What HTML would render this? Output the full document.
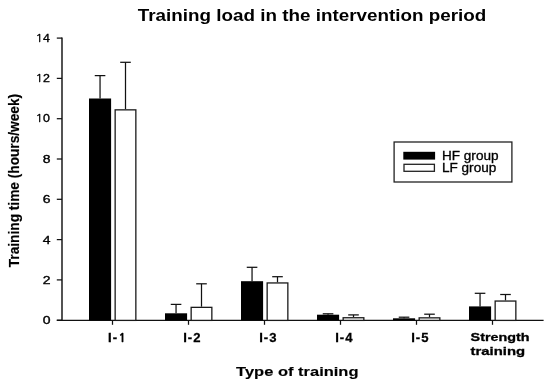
<!DOCTYPE html>
<html><head><meta charset="utf-8"><style>
html,body{margin:0;padding:0;background:#fff;}
body{width:550px;height:384px;overflow:hidden;}
svg{display:block;}
</style></head><body>
<svg width="550" height="384" viewBox="0 0 550 384">
<rect width="550" height="384" fill="#fff"/>
<line x1="62.0" y1="37.5" x2="62.0" y2="320.4" stroke="#111" stroke-width="1.45"/>
<line x1="56.8" y1="320.4" x2="543.6" y2="320.4" stroke="#111" stroke-width="1.25"/>
<line x1="56.8" y1="320.20" x2="62.0" y2="320.20" stroke="#111" stroke-width="1.25"/>
<line x1="56.8" y1="279.90" x2="62.0" y2="279.90" stroke="#111" stroke-width="1.25"/>
<line x1="56.8" y1="239.60" x2="62.0" y2="239.60" stroke="#111" stroke-width="1.25"/>
<line x1="56.8" y1="199.30" x2="62.0" y2="199.30" stroke="#111" stroke-width="1.25"/>
<line x1="56.8" y1="159.00" x2="62.0" y2="159.00" stroke="#111" stroke-width="1.25"/>
<line x1="56.8" y1="118.70" x2="62.0" y2="118.70" stroke="#111" stroke-width="1.25"/>
<line x1="56.8" y1="78.40" x2="62.0" y2="78.40" stroke="#111" stroke-width="1.25"/>
<line x1="56.8" y1="38.10" x2="62.0" y2="38.10" stroke="#111" stroke-width="1.25"/>
<line x1="112.5" y1="320.4" x2="112.5" y2="324.8" stroke="#111" stroke-width="1.25"/>
<line x1="188.5" y1="320.4" x2="188.5" y2="324.8" stroke="#111" stroke-width="1.25"/>
<line x1="264.5" y1="320.4" x2="264.5" y2="324.8" stroke="#111" stroke-width="1.25"/>
<line x1="340.5" y1="320.4" x2="340.5" y2="324.8" stroke="#111" stroke-width="1.25"/>
<line x1="416.5" y1="320.4" x2="416.5" y2="324.8" stroke="#111" stroke-width="1.25"/>
<line x1="492.5" y1="320.4" x2="492.5" y2="324.8" stroke="#111" stroke-width="1.25"/>
<line x1="100.05" y1="75.6" x2="100.05" y2="98.5" stroke="#111" stroke-width="1.25"/>
<line x1="94.75" y1="75.6" x2="105.35" y2="75.6" stroke="#111" stroke-width="1.25"/>
<rect x="89.0" y="98.5" width="22.10" height="221.90" fill="#000"/>
<line x1="125.50" y1="62.3" x2="125.50" y2="109.2" stroke="#111" stroke-width="1.25"/>
<line x1="120.20" y1="62.3" x2="130.80" y2="62.3" stroke="#111" stroke-width="1.25"/>
<rect x="115.15" y="109.85" width="20.70" height="210.55" fill="#fff" stroke="#1a1a1a" stroke-width="1.3"/>
<line x1="176.05" y1="304.4" x2="176.05" y2="313.3" stroke="#111" stroke-width="1.25"/>
<line x1="170.75" y1="304.4" x2="181.35" y2="304.4" stroke="#111" stroke-width="1.25"/>
<rect x="165.0" y="313.3" width="22.10" height="7.10" fill="#000"/>
<line x1="201.50" y1="283.8" x2="201.50" y2="306.7" stroke="#111" stroke-width="1.25"/>
<line x1="196.20" y1="283.8" x2="206.80" y2="283.8" stroke="#111" stroke-width="1.25"/>
<rect x="191.15" y="307.35" width="20.70" height="13.05" fill="#fff" stroke="#1a1a1a" stroke-width="1.3"/>
<line x1="252.05" y1="267.3" x2="252.05" y2="281.2" stroke="#111" stroke-width="1.25"/>
<line x1="246.75" y1="267.3" x2="257.35" y2="267.3" stroke="#111" stroke-width="1.25"/>
<rect x="241.0" y="281.2" width="22.10" height="39.20" fill="#000"/>
<line x1="277.50" y1="276.7" x2="277.50" y2="282.3" stroke="#111" stroke-width="1.25"/>
<line x1="272.20" y1="276.7" x2="282.80" y2="276.7" stroke="#111" stroke-width="1.25"/>
<rect x="267.15" y="282.95" width="20.70" height="37.45" fill="#fff" stroke="#1a1a1a" stroke-width="1.3"/>
<line x1="328.05" y1="313.8" x2="328.05" y2="314.7" stroke="#111" stroke-width="1.25"/>
<line x1="322.75" y1="313.8" x2="333.35" y2="313.8" stroke="#111" stroke-width="1.25"/>
<rect x="317.0" y="314.7" width="22.10" height="5.70" fill="#000"/>
<line x1="353.50" y1="314.9" x2="353.50" y2="317.1" stroke="#111" stroke-width="1.25"/>
<line x1="348.20" y1="314.9" x2="358.80" y2="314.9" stroke="#111" stroke-width="1.25"/>
<rect x="343.15" y="317.75" width="20.70" height="2.65" fill="#fff" stroke="#1a1a1a" stroke-width="1.3"/>
<line x1="404.05" y1="317.2" x2="404.05" y2="318.3" stroke="#111" stroke-width="1.25"/>
<line x1="398.75" y1="317.2" x2="409.35" y2="317.2" stroke="#111" stroke-width="1.25"/>
<rect x="393.0" y="318.3" width="22.10" height="2.10" fill="#000"/>
<line x1="429.50" y1="314.2" x2="429.50" y2="317.2" stroke="#111" stroke-width="1.25"/>
<line x1="424.20" y1="314.2" x2="434.80" y2="314.2" stroke="#111" stroke-width="1.25"/>
<rect x="419.15" y="317.85" width="20.70" height="2.55" fill="#fff" stroke="#1a1a1a" stroke-width="1.3"/>
<line x1="480.05" y1="293.3" x2="480.05" y2="306.4" stroke="#111" stroke-width="1.25"/>
<line x1="474.75" y1="293.3" x2="485.35" y2="293.3" stroke="#111" stroke-width="1.25"/>
<rect x="469.0" y="306.4" width="22.10" height="14.00" fill="#000"/>
<line x1="505.50" y1="294.5" x2="505.50" y2="300.4" stroke="#111" stroke-width="1.25"/>
<line x1="500.20" y1="294.5" x2="510.80" y2="294.5" stroke="#111" stroke-width="1.25"/>
<rect x="495.15" y="301.05" width="20.70" height="19.35" fill="#fff" stroke="#1a1a1a" stroke-width="1.3"/>
<rect x="394.1" y="142.0" width="117.8" height="40.0" fill="#fff" stroke="#222" stroke-width="1.3"/>
<rect x="403.3" y="151.8" width="31.8" height="7.8" fill="#000"/>
<rect x="404.0" y="164.3" width="30.4" height="7.0" fill="#fff" stroke="#222" stroke-width="1.3"/>
<text transform="translate(312.0,20.6) scale(1.1785,1.0)" font-family="'Liberation Sans', Arial, sans-serif" font-size="16" font-weight="bold" text-anchor="middle" fill="#000">Training load in the intervention period</text>
<text transform="translate(50.5,324.09999999999997) scale(1.27,1.0)" font-family="'Liberation Sans', Arial, sans-serif" font-size="11" font-weight="normal" text-anchor="end" fill="#000" stroke="#000" stroke-width="0.35">0</text>
<text transform="translate(50.5,283.79999999999995) scale(1.27,1.0)" font-family="'Liberation Sans', Arial, sans-serif" font-size="11" font-weight="normal" text-anchor="end" fill="#000" stroke="#000" stroke-width="0.35">2</text>
<text transform="translate(50.5,243.5) scale(1.27,1.0)" font-family="'Liberation Sans', Arial, sans-serif" font-size="11" font-weight="normal" text-anchor="end" fill="#000" stroke="#000" stroke-width="0.35">4</text>
<text transform="translate(50.5,203.20000000000002) scale(1.27,1.0)" font-family="'Liberation Sans', Arial, sans-serif" font-size="11" font-weight="normal" text-anchor="end" fill="#000" stroke="#000" stroke-width="0.35">6</text>
<text transform="translate(50.5,162.9) scale(1.27,1.0)" font-family="'Liberation Sans', Arial, sans-serif" font-size="11" font-weight="normal" text-anchor="end" fill="#000" stroke="#000" stroke-width="0.35">8</text>
<text transform="translate(50.0,122.39999999999999) scale(1.13,1.0)" font-family="'Liberation Sans', Arial, sans-serif" font-size="11" font-weight="normal" text-anchor="end" fill="#000" stroke="#000" stroke-width="0.35"><tspan font-family="NanumGothic, Liberation Sans, sans-serif">1</tspan>0</text>
<text transform="translate(50.0,82.10000000000001) scale(1.13,1.0)" font-family="'Liberation Sans', Arial, sans-serif" font-size="11" font-weight="normal" text-anchor="end" fill="#000" stroke="#000" stroke-width="0.35"><tspan font-family="NanumGothic, Liberation Sans, sans-serif">1</tspan>2</text>
<text transform="translate(50.0,41.800000000000026) scale(1.13,1.0)" font-family="'Liberation Sans', Arial, sans-serif" font-size="11" font-weight="normal" text-anchor="end" fill="#000" stroke="#000" stroke-width="0.35"><tspan font-family="NanumGothic, Liberation Sans, sans-serif">1</tspan>4</text>
<text transform="translate(117.6,341.6) scale(1.05,1.0)" font-family="'Liberation Sans', Arial, sans-serif" font-size="12.5" font-weight="bold" text-anchor="middle" fill="#000" letter-spacing="1.0" stroke="#000" stroke-width="0.25">I-<tspan font-family="NanumGothic, Liberation Sans, sans-serif">1</tspan></text>
<text transform="translate(192.4,341.6) scale(1.05,1.0)" font-family="'Liberation Sans', Arial, sans-serif" font-size="12.5" font-weight="bold" text-anchor="middle" fill="#000" letter-spacing="1.0" stroke="#000" stroke-width="0.25">I-2</text>
<text transform="translate(268.4,341.6) scale(1.05,1.0)" font-family="'Liberation Sans', Arial, sans-serif" font-size="12.5" font-weight="bold" text-anchor="middle" fill="#000" letter-spacing="1.0" stroke="#000" stroke-width="0.25">I-3</text>
<text transform="translate(344.4,341.6) scale(1.05,1.0)" font-family="'Liberation Sans', Arial, sans-serif" font-size="12.5" font-weight="bold" text-anchor="middle" fill="#000" letter-spacing="1.0" stroke="#000" stroke-width="0.25">I-4</text>
<text transform="translate(420.4,341.6) scale(1.05,1.0)" font-family="'Liberation Sans', Arial, sans-serif" font-size="12.5" font-weight="bold" text-anchor="middle" fill="#000" letter-spacing="1.0" stroke="#000" stroke-width="0.25">I-5</text>
<text transform="translate(470.6,341.4) scale(1.248,1.0)" font-family="'Liberation Sans', Arial, sans-serif" font-size="11.5" font-weight="bold" text-anchor="start" fill="#000" stroke="#000" stroke-width="0.3">Strength</text>
<text transform="translate(470.6,355.4) scale(1.293,1.0)" font-family="'Liberation Sans', Arial, sans-serif" font-size="11.5" font-weight="bold" text-anchor="start" fill="#000" stroke="#000" stroke-width="0.3">training</text>
<text transform="translate(297.3,375.6) scale(1.212,1.0)" font-family="'Liberation Sans', Arial, sans-serif" font-size="13.6" font-weight="bold" text-anchor="middle" fill="#000" stroke="#000" stroke-width="0.15">Type of training</text>
<text transform="translate(19.1,180.55) rotate(-90) scale(1.053,1.166)" font-family="'Liberation Sans', Arial, sans-serif" font-size="13" font-weight="bold" text-anchor="middle" fill="#000" stroke="#000" stroke-width="0.15">Training time (hours/week)</text>
<text transform="translate(442.0,159.7) scale(1.13,1.0)" font-family="'Liberation Sans', Arial, sans-serif" font-size="12" font-weight="normal" text-anchor="start" fill="#000" stroke="#000" stroke-width="0.3">HF group</text>
<text transform="translate(442.0,171.7) scale(1.13,1.0)" font-family="'Liberation Sans', Arial, sans-serif" font-size="12" font-weight="normal" text-anchor="start" fill="#000" stroke="#000" stroke-width="0.3">LF group</text>
</svg>
</body></html>
